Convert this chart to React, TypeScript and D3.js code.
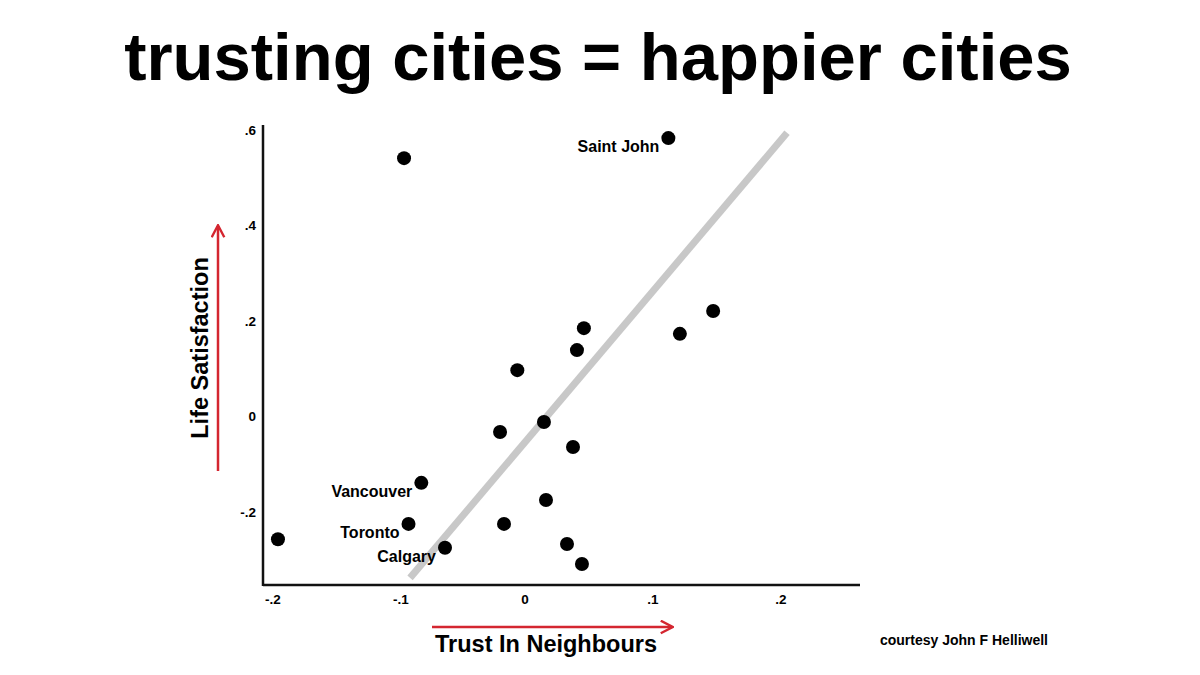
import React from "react";
import * as d3 from "d3";

// Trust in neighbours (x) vs life satisfaction (y), per city
const trust = [-0.193, -0.0945, -0.081, -0.091, -0.0625, -0.0195, -0.006, 0.0148, -0.0164, 0.0164, 0.0375, 0.0328, 0.0445, 0.0406, 0.046, 0.112, 0.121, 0.147];
const satisfaction = [-0.258, 0.54, -0.14, -0.226, -0.276, -0.0335, 0.096, -0.0126, -0.226, -0.176, -0.065, -0.268, -0.31, 0.138, 0.184, 0.582, 0.172, 0.22];
const cityNames = ["", "", "Vancouver", "Toronto", "Calgary", "", "", "", "", "", "", "", "", "", "", "Saint John", "", ""];

const xTicks = [-0.2, -0.1, 0, 0.1, 0.2];
const yTicks = [-0.2, 0, 0.2, 0.4, 0.6];
const fitLine = [
  { x: -0.0898, y: -0.339 },
  { x: 0.2047, y: 0.593 },
];

const width = 1200;
const height = 675;
const font = "Liberation Sans, Arial, Helvetica, sans-serif";
const red = "#d42630";

// ".1", "-.2", "0" style labels
const fmt = (v: number) => (v === 0 ? "0" : v.toFixed(1).replace("0.", "."));

export default function App() {
  const x = d3.scaleLinear().domain([0, 0.1]).range([525, 653]);
  const y = d3.scaleLinear().domain([0, 0.2]).range([416, 320.5]);

  const line = d3
    .line<{ x: number; y: number }>()
    .x((d) => x(d.x))
    .y((d) => y(d.y));

  const axisLeft = 263;
  const axisBottom = 585;

  return (
    <svg width={width} height={height} style={{ position: "absolute", left: 0, top: 0, background: "#fff" }}>
      <defs>
        <marker id="arrow" viewBox="0 0 10 10" refX="8.5" refY="5" markerWidth="6" markerHeight="6" orient="auto">
          <path d="M1,0.8 L9,5 L1,9.2" fill="none" stroke={red} strokeWidth="1.6" />
        </marker>
      </defs>

      {/* title */}
      <text x={598} y={80} textAnchor="middle" fontFamily={font} fontWeight="bold" fontSize={67}>
        trusting cities = happier cities
      </text>

      {/* axes */}
      <line x1={axisLeft} x2={axisLeft} y1={125} y2={axisBottom + 1} stroke="#111" strokeWidth={2.5} />
      <line x1={axisLeft} x2={860} y1={axisBottom} y2={axisBottom} stroke="#111" strokeWidth={2.5} />

      {xTicks.map((t) => (
        <text key={t} x={x(t) + (t < 0 ? 4 : 0)} y={604} textAnchor="middle" fontFamily={font} fontWeight="bold" fontSize={13.5}>
          {fmt(t)}
        </text>
      ))}
      {yTicks.map((t) => (
        <text key={t} x={256} y={y(t) + 5} textAnchor="end" fontFamily={font} fontWeight="bold" fontSize={13.5}>
          {fmt(t)}
        </text>
      ))}

      {/* fit line */}
      <path d={line(fitLine) || ""} stroke="#c8c8c8" strokeWidth={7} fill="none" />

      {/* points */}
      {trust.map((t, i) => (
        <circle key={i} cx={x(t)} cy={y(satisfaction[i])} r={7} fill="#000" />
      ))}
      {trust.map((t, i) =>
        cityNames[i] ? (
          <text
            key={"l" + i}
            x={x(t) - 9}
            y={y(satisfaction[i]) + 14}
            textAnchor="end"
            fontFamily={font}
            fontWeight="bold"
            fontSize={16}
          >
            {cityNames[i]}
          </text>
        ) : null
      )}

      {/* axis titles with arrows */}
      <line x1={218} x2={218} y1={471} y2={226} stroke={red} strokeWidth={2.5} markerEnd="url(#arrow)" />
      <text transform="translate(208,348) rotate(-90)" textAnchor="middle" fontFamily={font} fontWeight="bold" fontSize={23.5}>
        Life Satisfaction
      </text>

      <line x1={432} x2={672} y1={627} y2={627} stroke={red} strokeWidth={2.5} markerEnd="url(#arrow)" />
      <text x={546} y={652} textAnchor="middle" fontFamily={font} fontWeight="bold" fontSize={23.5}>
        Trust In Neighbours
      </text>

      <text x={964} y={645} textAnchor="middle" fontFamily={font} fontWeight="bold" fontSize={14}>
        courtesy John F Helliwell
      </text>
    </svg>
  );
}
